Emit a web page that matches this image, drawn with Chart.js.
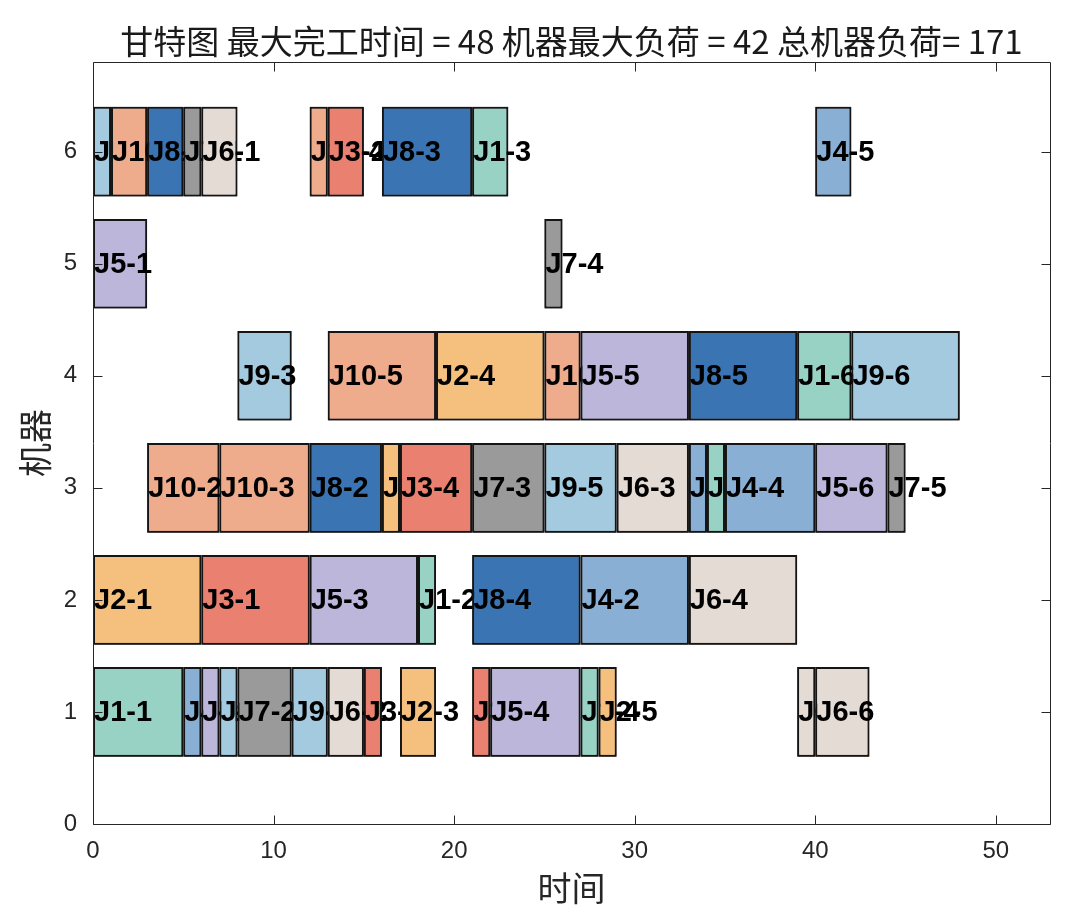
<!DOCTYPE html>
<html>
<head>
<meta charset="utf-8">
<script src="https://cdn.jsdelivr.net/npm/chart.js@4/dist/chart.umd.min.js"></script>
<style>
html,body{margin:0;padding:0;background:#ffffff;}
#wrap{width:1080px;height:923px;position:relative;}
</style>
</head>
<body>
<div id="wrap"><canvas id="c" width="1080" height="923"></canvas></div>
<script>
// ---------------- data ----------------
const titleText = '甘特图 最大完工时间 = 48 机器最大负荷 = 42 总机器负荷= 171';
const xAxisTitle = '时间';
const yAxisTitle = '机器';
const xTickValues = [0, 10, 20, 30, 40, 50];
const yTickValues = [0, 1, 2, 3, 4, 5, 6];

const jobNames  = ['J1', 'J2', 'J3', 'J4', 'J5', 'J6', 'J7', 'J8', 'J9', 'J10'];
const jobColors = ['#98D2C4', '#F5C07E', '#EA8170', '#8AAFD5', '#BCB6DB',
                   '#E5DBD5', '#9A9A9A', '#3B74B3', '#A4CADF', '#EFAC8D'];

const opLabels = [
  'J1-1','J4-1','J5-2','J9-2','J7-2','J9-4','J6-2','J3-3','J2-3','J3-5','J5-4','J1-4','J2-5','J6-5','J6-6',
  'J2-1','J3-1','J5-3','J1-2','J8-4','J4-2','J6-4',
  'J10-2','J10-3','J8-2','J2-2','J3-4','J7-3','J9-5','J6-3','J4-3','J1-5','J4-4','J5-6','J7-5',
  'J9-3','J10-5','J2-4','J10-6','J5-5','J8-5','J1-6','J9-6',
  'J5-1','J7-4',
  'J9-1','J10-1','J8-1','J7-1','J6-1','J10-4','J3-2','J8-3','J1-3','J4-5'
];
const opMachine = [
  1,1,1,1,1,1,1,1,1,1,1,1,1,1,1,
  2,2,2,2,2,2,2,
  3,3,3,3,3,3,3,3,3,3,3,3,3,
  4,4,4,4,4,4,4,4,
  5,5,
  6,6,6,6,6,6,6,6,6,6
];
const opStart = [
  0,5,6,7,8,11,13,15,17,21,22,27,28,39,40,
  0,6,12,18,21,27,33,
  3,7,12,16,17,21,25,29,33,34,35,40,44,
  8,13,19,25,27,33,39,42,
  0,25,
  0,1,3,5,6,12,13,16,21,40
];
const opEnd = [
  5,6,7,8,11,13,15,16,19,22,27,28,29,40,43,
  6,12,18,19,27,33,39,
  7,12,16,17,21,25,29,33,34,35,40,44,45,
  11,19,25,27,33,39,42,48,
  3,26,
  1,3,5,6,8,13,15,21,23,42
];

// ---------------- chart ----------------
const jobOf = lbl => jobNames.indexOf(lbl.split('-')[0]);
const barData = opLabels.map((l, i) => ({ x: [opStart[i], opEnd[i]], y: opMachine[i] }));
const barColors = opLabels.map(l => jobColors[jobOf(l)]);

const AXIS_COLOR = '#262626';
const LABEL_FONT = 'bold 29px "Liberation Sans", Arial, sans-serif';

const orderedLabels = {
  id: 'orderedLabels',
  afterDatasetsDraw(chart) {
    const ctx = chart.ctx;
    const meta = chart.getDatasetMeta(0);
    const idx = opLabels.map((_, i) => i).sort((a, b) =>
      opMachine[a] - opMachine[b] || opStart[a] - opStart[b]);
    ctx.save();
    const ca = chart.chartArea;
    ctx.beginPath();
    ctx.rect(ca.left, ca.top, ca.right - ca.left, ca.bottom - ca.top);
    ctx.clip();
    idx.forEach(i => {
      const el = meta.data[i];
      el.draw(ctx);
      const left = Math.min(el.x, el.base);
      ctx.font = LABEL_FONT;
      ctx.fillStyle = '#000000';
      ctx.textAlign = 'left';
      ctx.textBaseline = 'middle';
      ctx.fillText(opLabels[i], left + 1, el.y + 1);
    });
    ctx.restore();
  }
};

const boxAndTicks = {
  id: 'boxAndTicks',
  afterDraw(chart) {
    const ctx = chart.ctx;
    const ca = chart.chartArea;
    const xs = chart.scales.x, ys = chart.scales.y;
    const L = Math.round(ca.left) + 0.5, R = Math.round(ca.right) + 0.5;
    const T = Math.round(ca.top) + 0.5, B = Math.round(ca.bottom) + 0.5;
    ctx.save();
    ctx.strokeStyle = AXIS_COLOR;
    ctx.lineWidth = 1;
    ctx.beginPath();
    ctx.rect(L, T, R - L, B - T);
    const tl = 9;
    xTickValues.forEach(v => {
      const px = Math.round(xs.getPixelForValue(v)) + 0.5;
      ctx.moveTo(px, B); ctx.lineTo(px, B - tl);
      ctx.moveTo(px, T); ctx.lineTo(px, T + tl);
    });
    yTickValues.forEach(v => {
      const py = Math.round(ys.getPixelForValue(v)) + 0.5;
      ctx.moveTo(L, py); ctx.lineTo(L + tl, py);
      ctx.moveTo(R, py); ctx.lineTo(R - tl, py);
    });
    ctx.stroke();
    // title
    ctx.fillStyle = '#1a1a1a';
    ctx.font = '33px "Noto Sans CJK SC", sans-serif';
    ctx.textAlign = 'center';
    ctx.textBaseline = 'middle';
    ctx.fillText(titleText, (ca.left + ca.right) / 2, 41);
    ctx.restore();
  }
};

new Chart(document.getElementById('c'), {
  type: 'bar',
  data: {
    datasets: [{
      data: barData,
      backgroundColor: barColors,
      borderColor: '#151515',
      borderWidth: 2,
      borderSkipped: false,
      categoryPercentage: 1.0,
      barPercentage: 0.8
    }]
  },
  options: {
    indexAxis: 'y',
    responsive: false,
    animation: false,
    devicePixelRatio: 1,
    layout: { padding: { left: 0, right: 30, top: 62, bottom: 0 } },
    plugins: { legend: { display: false }, tooltip: { enabled: false }, title: { display: false } },
    scales: {
      x: {
        type: 'linear', position: 'bottom', min: 0, max: 53, offset: false,
        afterBuildTicks: s => { s.ticks = xTickValues.map(v => ({ value: v })); },
        afterFit: s => { s.height = 99; },
        grid: { display: false, drawTicks: false },
        border: { display: false },
        ticks: { padding: 13, color: AXIS_COLOR, font: { size: 24, family: '"Liberation Sans", Arial, sans-serif' } },
        title: { display: true, text: xAxisTitle, color: AXIS_COLOR,
                 font: { size: 34, family: '"Noto Sans CJK SC", sans-serif', lineHeight: 1 },
                 padding: { top: 0, bottom: 18 } }
      },
      y: {
        type: 'linear', position: 'left', min: 0, max: 6.8, offset: false,
        afterBuildTicks: s => { s.ticks = yTickValues.map(v => ({ value: v })); },
        afterFit: s => { s.width = 93; },
        grid: { display: false, drawTicks: false },
        border: { display: false },
        ticks: { padding: 16, color: AXIS_COLOR, font: { size: 24, family: '"Liberation Sans", Arial, sans-serif' } },
        title: { display: true, text: yAxisTitle, color: AXIS_COLOR,
                 font: { size: 34, family: '"Noto Sans CJK SC", sans-serif', lineHeight: 1 },
                 padding: { top: 18, bottom: 0 } }
      }
    }
  },
  plugins: [orderedLabels, boxAndTicks]
});
</script>
</body>
</html>
